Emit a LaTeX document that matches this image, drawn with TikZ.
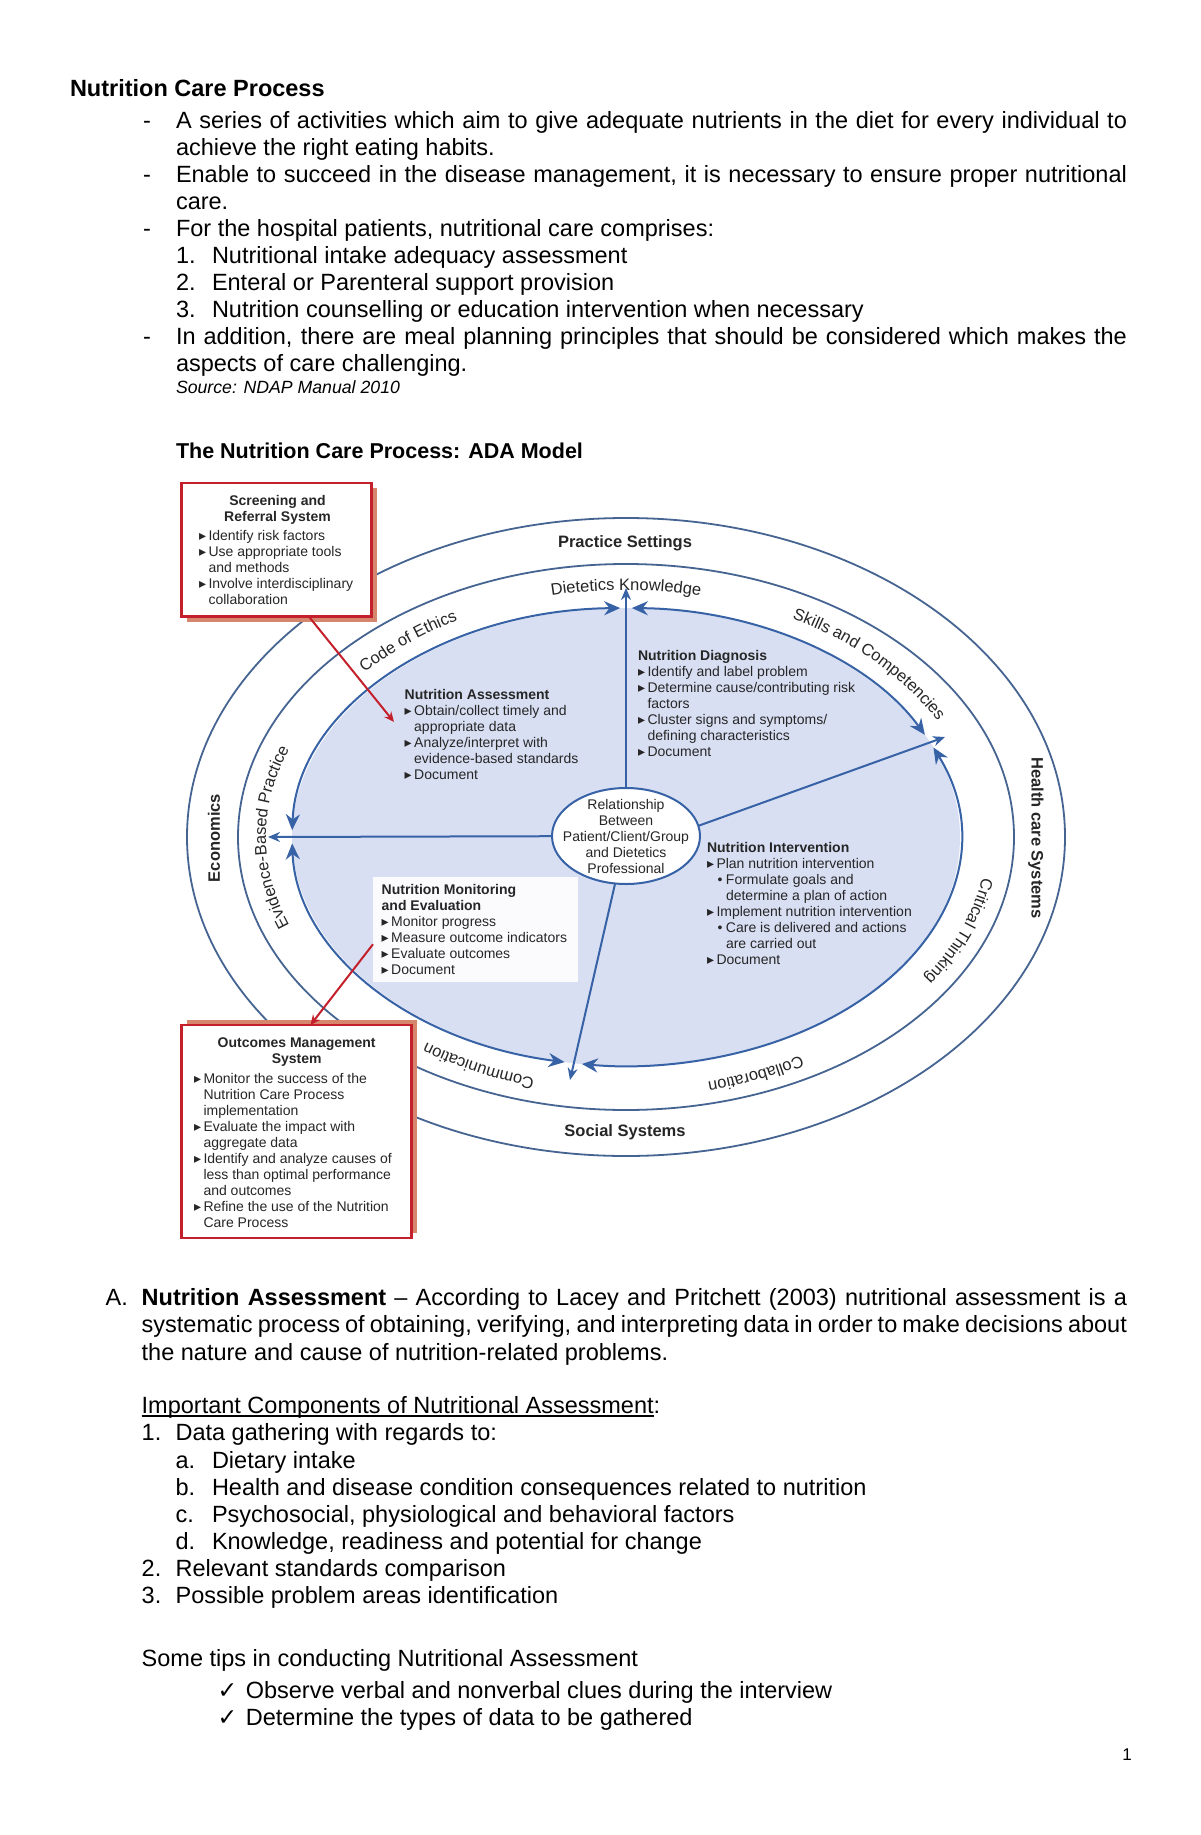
\documentclass[tikz,border=0pt]{standalone}
\usepackage{fontspec}
\setmainfont{Liberation Sans}
\newfontfamily\symfont{DejaVu Sans}
\usetikzlibrary{arrows.meta,decorations.text,calc,shapes.geometric,shadows}
\definecolor{ringblue}{RGB}{70,100,145}
\definecolor{arrowblue}{RGB}{55,98,165}
\definecolor{innerfill}{RGB}{216,223,243}
\definecolor{boxred}{RGB}{196,32,44}
\definecolor{shadowc}{RGB}{214,134,108}
\definecolor{dtxt}{RGB}{38,38,38}
\newcommand\bodyfont{\fontsize{11.75}{13.5}\selectfont}
\newcommand\dfont{\fontsize{7}{8}\selectfont}
\newcommand\rfont{\fontsize{8.25}{9.5}\selectfont}
\newcommand\dbul{\makebox[4.75pt][l]{{\symfont ▸}}}
\newcommand\dind{\makebox[4.75pt]{}}
\newcommand\dsbul{\makebox[4.75pt][l]{\hspace{0.6pt}•}}
\newcommand\myul[1]{\setbox0\hbox{#1}\rlap{\rule[-1.6pt]{\wd0}{0.7pt}}#1}
\begin{document}
\begin{tikzpicture}[x=0.5pt,y=0.5pt,
  every node/.style={inner sep=0pt, outer sep=0pt},
  body/.style={anchor=base west, font=\bodyfont, text=black},
  blk/.style={anchor=north west, align=left, font=\dfont, text=dtxt},
  btitle/.style={anchor=north, align=center, font=\dfont\bfseries, text=dtxt},
  ringlbl/.style={font=\rfont\bfseries, text=dtxt},
  redbox/.style={draw=boxred, line width=1.3pt, fill=white, rectangle},
  arcarrow/.style={draw=arrowblue, line width=1pt, {Stealth[length=8pt,width=7pt]}-{Stealth[length=8pt,width=7pt]}},
  spoke/.style={draw=arrowblue, line width=1pt, -{Stealth[length=6pt,width=5pt]}},
  redarrow/.style={draw=boxred, line width=1pt, -{Stealth[length=5pt,width=4.5pt]}},
  ring/.style={draw=ringblue, line width=0.9pt},
  ringtext/.style={decorate, decoration={text along path, text align=center, text color=dtxt, text={|\rfont|#1}}}]
\useasboundingbox (0,0) rectangle (1200,-1835);
\fill[white] (0,0) rectangle (1200,-1835);

% ---------- top text ----------
\node[body] (h0) at (70,-97) {\textbf{Nutrition Care Process}};
\node[body] (d1) at (143,-128.5) {-};
\node[body] (t1) at (176,-128.5) {\makebox[475.5pt][s]{A series of activities which aim to give adequate nutrients in the diet for every individual to}};
\node[body] (t2) at (176,-155.5) {achieve the right eating habits.};
\node[body] (d2) at (143,-182.5) {-};
\node[body] (t3) at (176,-182.5) {\makebox[475.5pt][s]{Enable to succeed in the disease management, it is necessary to ensure proper nutritional}};
\node[body] (t4) at (176,-209.5) {care.};
\node[body] (d3) at (143,-236.5) {-};
\node[body] (t5) at (176,-236.5) {For the hospital patients, nutritional care comprises:};
\node[body] (n1) at (176,-263.5) {1.};
\node[body] (t6) at (212,-263.5) {Nutritional intake adequacy assessment};
\node[body] (n2) at (176,-290.5) {2.};
\node[body] (t7) at (212,-290.5) {Enteral or Parenteral support provision};
\node[body] (n3) at (176,-317.5) {3.};
\node[body] (t8) at (212,-317.5) {Nutrition counselling or education intervention when necessary};
\node[body] (d4) at (143,-344.5) {-};
\node[body] (t9) at (176,-344.5) {\makebox[475.5pt][s]{In addition, there are meal planning principles that should be considered which makes the}};
\node[body] (t10) at (176,-371.5) {aspects of care challenging.};
\node[body, font=\fontsize{8.85}{10}\selectfont\itshape] (src) at (176,-393) {Source: NDAP Manual 2010};
\node[body, font=\fontsize{10.75}{12}\selectfont\bfseries] (dtitle) at (176,-458) {The Nutrition Care Process: ADA Model};

% ---------- diagram ----------
\coordinate (C) at (626,-837);
\draw[ring] (C) ellipse[x radius=439, y radius=319];
\draw[ring] (C) ellipse[x radius=388, y radius=273];
\fill[innerfill] (C) ellipse[x radius=334, y radius=229];
\draw[arcarrow] ($(C)+(178.3:334 and 229)$) arc[start angle=178.3, end angle=91, x radius=334, y radius=229];
\draw[arcarrow] ($(C)+(89:334 and 229)$) arc[start angle=89, end angle=26.5, x radius=334, y radius=229];
\draw[arcarrow] ($(C)+(23:334 and 229)$) arc[start angle=23, end angle=-97.6, x radius=334, y radius=229];
\draw[arcarrow] ($(C)+(-100.6:334 and 229)$) arc[start angle=-100.6, end angle=-178.4, x radius=334, y radius=229];

\node[ellipse, draw=arrowblue, line width=1pt, fill=white, minimum width=74pt, minimum height=48pt] (rel) at (626,-836) {};
\coordinate (tT) at (626,-588);
\coordinate (tL) at (268,-837);
\coordinate (tR) at (945,-737);
\coordinate (tB) at (570,-1080);
\draw[spoke] (rel) -- (tT);
\draw[spoke] (rel) -- (tL);
\draw[spoke] (rel.8) -- (tR);
\draw[spoke] (rel) -- (tB);
\node[font=\dfont, text=dtxt, align=center] (reltxt) at (626,-836) {Relationship\\Between\\Patient/Client/Group\\and Dietetics\\Professional};

\node[fill=white, fill opacity=0.9, minimum width=102.5pt, minimum height=52.5pt] (mon) at (475.5,-929.5) {};

\node[blk] (asmt) at (404.7,-688.3) {\strut\textbf{Nutrition Assessment}\\
\dbul Obtain/collect timely and\\
\dind appropriate data\\
\dbul Analyze/interpret with\\
\dind evidence-based standards\\
\dbul Document};
\node[blk] (diag) at (638,-648.8) {\strut\textbf{Nutrition Diagnosis}\\
\dbul Identify and label problem\\
\dbul Determine cause/contributing risk\\
\dind factors\\
\dbul Cluster signs and symptoms/\\
\dind defining characteristics\\
\dbul Document};
\node[blk] (intv) at (707,-841.3) {\strut\textbf{Nutrition Intervention}\\
\dbul Plan nutrition intervention\\
\dind\dsbul Formulate goals and\\
\dind\dind determine a plan of action\\
\dbul Implement nutrition intervention\\
\dind\dsbul Care is delivered and actions\\
\dind\dind are carried out\\
\dbul Document};
\node[blk] (monT) at (381.7,-882.8) {\strut\textbf{Nutrition Monitoring}\\
\textbf{and Evaluation}\\
\dbul Monitor progress\\
\dbul Measure outcome indicators\\
\dbul Evaluate outcomes\\
\dbul Document};

% ring labels
\node[ringlbl] (ps) at (625,-543) {Practice Settings};
\node[ringlbl, rotate=90] (eco) at (214,-838) {Economics};
\node[ringlbl, rotate=-90] (hcs) at (1036,-838) {Health care Systems};
\node[ringlbl] (ss) at (625,-1132) {Social Systems};

\path[ringtext={Dietetics Knowledge}] ($(C)+(120:350 and 247)$) arc[start angle=120, end angle=60, x radius=350, y radius=247];
\path[ringtext={Code of Ethics}] ($(C)+(151.5:350 and 247)$) arc[start angle=151.5, end angle=107.5, x radius=350, y radius=247];
\path[ringtext={Skills and Competencies}] ($(C)+(68:352 and 248)$) arc[start angle=68, end angle=20, x radius=352, y radius=248];
\path[ringtext={Evidence-Based Practice}] ($(C)+(208:360 and 248)$) arc[start angle=208, end angle=152, x radius=360, y radius=248];
\path[ringtext={Critical Thinking}] ($(C)+(1:361 and 250)$) arc[start angle=1, end angle=-43, x radius=361, y radius=250];
\path[ringtext={Communication}] ($(C)+(-95.5:350 and 250)$) arc[start angle=-95.5, end angle=-135.5, x radius=350, y radius=250];
\path[ringtext={Collaboration}] ($(C)+(-50:352 and 252)$) arc[start angle=-50, end angle=-86, x radius=352, y radius=252];

% boxes
\node[redbox, minimum width=95pt, minimum height=66.85pt,
  drop shadow={shadow xshift=2.5pt, shadow yshift=-2.5pt, fill=shadowc, opacity=1}] (scr) at (276.7,-549.85) {};
\node[btitle] (scrT) at (277.5,-494.1) {\strut Screening and\\Referral System};
\node[blk] (scrB) at (199,-529.5) {\strut\dbul Identify risk factors\\
\dbul Use appropriate tools\\
\dind and methods\\
\dbul Involve interdisciplinary\\
\dind collaboration};

\node[redbox, minimum width=115pt, minimum height=106.5pt,
  drop shadow={shadow xshift=2.5pt, shadow yshift=2.5pt, fill=shadowc, opacity=1}] (out) at (296.7,-1131.5) {};
\node[btitle] (outT) at (296.7,-1036.6) {\strut Outcomes Management\\System};
\node[blk] (outB) at (194,-1072.6) {\strut\dbul Monitor the success of the\\
\dind Nutrition Care Process\\
\dind implementation\\
\dbul Evaluate the impact with\\
\dind aggregate data\\
\dbul Identify and analyze causes of\\
\dind less than optimal performance\\
\dind and outcomes\\
\dbul Refine the use of the Nutrition\\
\dind Care Process};

\coordinate (a1end) at (394,-722);
\draw[redarrow] ($(scr.south west)!0.67!(scr.south east)$) -- (a1end);
\draw[redarrow] ($(mon.north west)!0.64!(mon.south west)$) -- ($(out.north west)!0.56!(out.north east)$);

% ---------- lower text ----------
\node[body] (la) at (105.7,-1305) {A.};
\node[body] (l1) at (141.7,-1305) {\makebox[492.65pt][s]{\textbf{Nutrition Assessment} – According to Lacey and Pritchett (2003) nutritional assessment is a}};
\node[body] (l2) at (141.7,-1332.5) {\makebox[492.65pt][s]{systematic process of obtaining, verifying, and interpreting data in order to make decisions about}};
\node[body] (l3) at (141.7,-1360) {the nature and cause of nutrition-related problems.};
\node[body] (l4) at (141.7,-1413.5) {\myul{Important Components of Nutritional Assessment}:};
\node[body] (m1) at (141.7,-1440.5) {1.};
\node[body] (l5) at (175.6,-1440.5) {Data gathering with regards to:};
\node[body] (ma) at (175.6,-1468) {a.};
\node[body] (l6) at (212,-1468) {Dietary intake};
\node[body] (mb) at (175.6,-1495) {b.};
\node[body] (l7) at (212,-1495) {Health and disease condition consequences related to nutrition};
\node[body] (mc) at (175.6,-1522) {c.};
\node[body] (l8) at (212,-1522) {Psychosocial, physiological and behavioral factors};
\node[body] (md) at (175.6,-1549) {d.};
\node[body] (l9) at (212,-1549) {Knowledge, readiness and potential for change};
\node[body] (m2) at (141.7,-1576) {2.};
\node[body] (l10) at (175.6,-1576) {Relevant standards comparison};
\node[body] (m3) at (141.7,-1603) {3.};
\node[body] (l11) at (175.6,-1603) {Possible problem areas identification};
\node[body] (l12) at (141.7,-1666) {Some tips in conducting Nutritional Assessment};
\node[body] (c1) at (217.7,-1698.5) {{\symfont ✓}};
\node[body] (l13) at (245.8,-1698.5) {Observe verbal and nonverbal clues during the interview};
\node[body] (c2) at (217.7,-1725) {{\symfont ✓}};
\node[body] (l14) at (245.8,-1725) {Determine the types of data to be gathered};
\node[anchor=base, font=\fontsize{8.5}{10}\selectfont] (pg) at (1127,-1760) {1};
\end{tikzpicture}
\end{document}
